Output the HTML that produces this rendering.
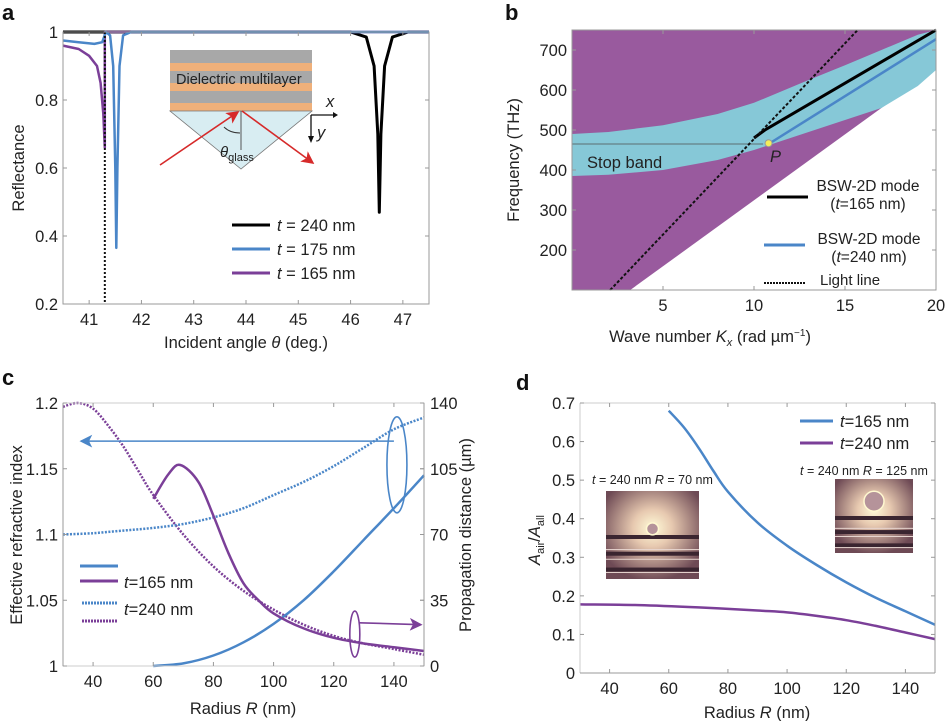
<!DOCTYPE html>
<html><head><meta charset="utf-8">
<style>
body{margin:0;background:#fff;}
svg{display:block;font-family:"Liberation Sans",sans-serif;}
.tk{font-size:16.5px;fill:#222;}
.lab{font-size:16.5px;fill:#222;}
.pl{font-size:22px;font-weight:bold;fill:#111;}
</style></head>
<body>
<svg id="fig" width="946" height="721" viewBox="0 0 946 721">
<defs>
<marker id="arB" markerWidth="8" markerHeight="8" refX="7" refY="4" orient="auto"><path d="M0,0 L8,4 L0,8 L2,4 z" fill="#4a86c8"/></marker>
<marker id="arP" markerWidth="8" markerHeight="8" refX="7" refY="4" orient="auto"><path d="M0,0 L8,4 L0,8 L2,4 z" fill="#7b3f98"/></marker>
<marker id="arR" markerWidth="8" markerHeight="8" refX="7" refY="4" orient="auto"><path d="M0,0 L8,4 L0,8 L2,4 z" fill="#d62a2a"/></marker>
<radialGradient id="fld1" cx="0.5" cy="0.42" r="0.6"><stop offset="0" stop-color="#fffbd8"/><stop offset="0.35" stop-color="#e7c9b0"/><stop offset="1" stop-color="#6e4a55"/></radialGradient>
</defs>
<g id="pa"></g>
<g id="pb"></g>
<g id="pc"></g>
<g id="pd"></g>
</svg>
<script>
// ---------- data ----------
// panel a
const aX240=[40.5,41.3,46.0,46.3,46.45,46.52,46.55,46.58,46.65,46.8,47.1,47.5];
const aY240=[1,1,1,0.985,0.9,0.7,0.47,0.7,0.9,0.985,1,1];
const aX175=[40.5,40.8,41.1,41.25,41.32,41.4,41.46,41.5,41.52,41.54,41.58,41.65,41.8,47.5];
const aY175=[0.975,0.97,0.965,0.97,1,0.99,0.9,0.6,0.365,0.6,0.9,0.99,1,1];
const aX165=[40.5,40.8,41.0,41.15,41.22,41.27,41.3,41.3,47.5];
const aY165=[0.96,0.95,0.93,0.9,0.85,0.76,0.66,1,1];
const aXticks=[41,42,43,44,45,46,47];
const aYticks=[0.2,0.4,0.6,0.8,1];
const aYtickLabels=["0.2","0.4","0.6","0.8","1"];
// panel b
const bBandK=[0,2,5,8,10,13,15,17,19,20];
const bBandUp=[490,495,512,540,568,625,662,700,738,760];
const bBandLo=[385,388,400,425,450,495,525,555,610,650];
const bCladK=[3.2,20];
const bCladF=[100,654];
const bLightK=[2.1,15.7];
const bLightF=[100,750];
const bBlackK=[10.0,10.6,20];
const bBlackF=[480,500,750];
const bBlueK=[10.8,20];
const bBlueF=[465,727];
const bStopF=465;
const bP=[10.8,467];
const bXticks=[5,10,15,20];
const bYticks=[200,300,400,500,600,700];
// panel c
const cR=[60,70,80,90,100,110,120,130,140,150];
const cN165=[1.0,1.002,1.008,1.018,1.032,1.05,1.072,1.096,1.12,1.145];
const cR240=[30,40,50,60,70,80,90,100,110,120,130,140,150];
const cN240=[1.1,1.101,1.103,1.105,1.108,1.113,1.12,1.13,1.14,1.152,1.166,1.18,1.189];
const cRL165=[60,65,69,75,80,85,90,95,100,110,120,130,140,150];
const cL165=[89,102,107,98,80,60,44,35,28,20,15,12,10,8];
const cRL240=[30,35,40,45,50,55,60,70,80,90,100,110,120,130,140,150];
const cL240=[138,140,137,128,117,104,91,70,53,40,30,22,16,12,9,6];
const cXticks=[40,60,80,100,120,140];
const cYticks=[1,1.05,1.1,1.15,1.2];
const cYtickLabels=["1","1.05","1.1","1.15","1.2"];
const cY2ticks=[0,35,70,105,140];
// panel d
const dR165=[60,65,70,75,80,90,100,110,120,130,140,150];
const dA165=[0.68,0.638,0.585,0.525,0.47,0.39,0.33,0.28,0.235,0.195,0.16,0.125];
const dR240=[30,50,70,90,100,110,120,130,140,150];
const dA240=[0.178,0.176,0.17,0.162,0.157,0.148,0.137,0.122,0.105,0.088];
const dXticks=[40,60,80,100,120,140];
const dYticks=[0,0.1,0.2,0.3,0.4,0.5,0.6,0.7];
const dYtickLabels=["0","0.1","0.2","0.3","0.4","0.5","0.6","0.7"];

const NS="http://www.w3.org/2000/svg";
function mk(parent,tag,attrs,text){const e=document.createElementNS(NS,tag);for(const k in attrs)e.setAttribute(k,attrs[k]);if(text!==undefined)e.textContent=text;parent.appendChild(e);return e;}
function lin(d0,d1,p0,p1){return v=>p0+(v-d0)/(d1-d0)*(p1-p0);}
function pathOf(xs,ys,sx,sy){return xs.map((x,i)=>(i?'L':'M')+sx(x).toFixed(1)+','+sy(ys[i]).toFixed(1)).join(' ');}
function smooth(xs,ys,sx,sy){const p=xs.map((x,i)=>[sx(x),sy(ys[i])]);let d='M'+p[0][0]+','+p[0][1];for(let i=0;i<p.length-1;i++){const p0=p[i-1]||p[i],p1=p[i],p2=p[i+1],p3=p[i+2]||p2;const c1=[p1[0]+(p2[0]-p0[0])/6,p1[1]+(p2[1]-p0[1])/6],c2=[p2[0]-(p3[0]-p1[0])/6,p2[1]-(p3[1]-p1[1])/6];d+=` C${c1[0].toFixed(1)},${c1[1].toFixed(1)} ${c2[0].toFixed(1)},${c2[1].toFixed(1)} ${p2[0].toFixed(1)},${p2[1].toFixed(1)}`;}return d;}
function box(g,x0,y0,x1,y1,name){const r=mk(g,'rect',{x:x0,y:y0,width:x1-x0,height:y1-y0,fill:'none',stroke:'#999','stroke-width':1});}
function xt(g,ticks,sx,y0,y1,labels){ticks.forEach((t,i)=>{mk(g,'line',{x1:sx(t),x2:sx(t),y1:y1,y2:y1-4,stroke:'#999'});mk(g,'line',{x1:sx(t),x2:sx(t),y1:y0,y2:y0+4,stroke:'#999'});const e=mk(g,'text',{x:sx(t),y:y1+21,'text-anchor':'middle',class:'tk'},labels?labels[i]:String(t));});}
function yt(g,ticks,sy,x0,x1,labels,right){ticks.forEach((t,i)=>{mk(g,'line',{x1:x0,x2:x0+4,y1:sy(t),y2:sy(t),stroke:'#999'});if(!right)mk(g,'line',{x1:x1,x2:x1-4,y1:sy(t),y2:sy(t),stroke:'#999'});const e=mk(g,'text',{x:right?x1+6:x0-5,y:sy(t)+6,'text-anchor':right?'start':'end',class:'tk'},labels?labels[i]:String(t));});}
function ln(g,d,stroke,w,name,dash){const e=mk(g,'path',{d:d,fill:'none',stroke:stroke,'stroke-width':w,'stroke-linejoin':'round'});if(dash)e.setAttribute('stroke-dasharray',dash);return e;}
function txt(g,x,y,s,cls,name,extra){extra=Object.assign({},extra||{});let st='';if(extra['font-size']){st='font-size:'+extra['font-size'];delete extra['font-size'];}const e=mk(g,'text',Object.assign({x:x,y:y,class:cls},extra));if(st)e.setAttribute('style',st);e.innerHTML=s;return e;}
const BLUE='#4a86c8',PURP='#7b3f98';

// ---------- panel a ----------
(function(){const g=document.getElementById('pa');
const sx=lin(40.5,47.5,63,429),sy=lin(0.2,1,304,32);
txt(g,2,20,'a','pl','panel-label-a');
const ins=mk(g,'g',{});
const cols=['#a8a8a8','#efb07a','#a8a8a8','#efb07a','#a8a8a8','#efb07a'];const hs=[13,8,12,8,12,8];let yy=50;
cols.forEach((c,i)=>{mk(ins,'rect',{x:170,y:yy,width:142,height:hs[i],fill:c});yy+=hs[i];});
mk(ins,'rect',{x:170,y:yy,width:142,height:111-yy,fill:'#efb07a'});
mk(ins,'path',{d:'M170,111 L312,111 L241,169 Z',fill:'#d8edf2',stroke:'#777','stroke-width':0.8});
txt(ins,176,84,'Dielectric multilayer','lab','inset-title',{'font-size':'14.5px'});
mk(ins,'line',{x1:241,y1:111,x2:241,y2:150,stroke:'#555'});
mk(ins,'path',{d:'M224,127 Q230,133 240,133',fill:'none',stroke:'#333'});
txt(ins,220,157,'<tspan font-style="italic">θ</tspan><tspan style="font-size:11px" dy="4">glass</tspan>','lab','theta-glass-label',{'font-size':'15px'});
mk(ins,'line',{x1:160,y1:165,x2:238,y2:112,stroke:'#d62a2a','stroke-width':1.6,'marker-end':'url(#arR)'});
mk(ins,'line',{x1:242,y1:111,x2:313,y2:163,stroke:'#d62a2a','stroke-width':1.6,'marker-end':'url(#arR)'});
mk(ins,'line',{x1:311,y1:115,x2:336,y2:115,stroke:'#111','stroke-width':1.3});
mk(ins,'line',{x1:311,y1:115,x2:311,y2:140,stroke:'#111','stroke-width':1.3});
mk(ins,'path',{d:'M308,136 L311,143 L314,136 Z',fill:'#111'});
mk(ins,'path',{d:'M333,112 L338,115 L333,118 Z',fill:'#111'});
txt(ins,326,107,'x','lab','x-axis-glyph',{'font-style':'italic'});
txt(ins,317,138,'y','lab','y-axis-glyph',{'font-style':'italic'});
ln(g,pathOf(aX240,aY240,sx,sy),'#000',3,'line-t240');
ln(g,pathOf(aX165,aY165,sx,sy),PURP,2.5,'line-t165');
ln(g,pathOf(aX175,aY175,sx,sy),BLUE,2.5,'line-t175');
ln(g,`M${sx(41.3)},${sy(1)} L${sx(41.3)},${sy(0.2)}`,'#111',2,'critical-angle-line','2,2');
box(g,63,32,429,304,'plot-area-a');
xt(g,aXticks,sx,32,304);yt(g,aYticks,sy,63,429,aYtickLabels);
txt(g,246,348,'Incident angle <tspan font-style="italic">θ</tspan> (deg.)','lab','x-axis-title-a',{'text-anchor':'middle'});
txt(g,24,168,'Reflectance','lab','y-axis-title-a',{'text-anchor':'middle',transform:'rotate(-90 24 168)'});
[['#000','240'],[BLUE,'175'],[PURP,'165']].forEach((l,i)=>{const y=225+i*24;const e=mk(g,'line',{x1:232,x2:270,y1:y,y2:y,stroke:l[0],'stroke-width':3});txt(g,277,y+6,'<tspan font-style="italic">t</tspan> = '+l[1]+' nm','lab','legend-entry-t'+l[1]);});
})();

// ---------- panel b ----------
(function(){const g=document.getElementById('pb');
const sx=lin(0,20,572,936),sy=lin(100,750,290,30);
txt(g,505,20,'b','pl','panel-label-b');
const bg=mk(g,'rect',{x:572,y:30,width:364,height:260,fill:'#995a9e'});
const cl=mk(g,'path',{d:`M${sx(bCladK[0])},${sy(bCladF[0])} L${sx(bCladK[1])},${sy(bCladF[1])} L${sx(20)},${sy(100)} Z`,fill:'#fff'});
const up=bBandK.map((k,i)=>[sx(k),sy(Math.min(bBandUp[i],750))]);const lo=bBandK.map((k,i)=>[sx(k),sy(bBandLo[i])]).reverse();
const band=mk(g,'path',{d:'M'+up.concat(lo).map(p=>p.join(',')).join(' L')+' Z',fill:'#86c8d7'});
ln(g,`M${sx(0)},${sy(bStopF)} L${sx(10.5)},${sy(bStopF)}`,'#6a8c94',1.5,'stop-band-center');
ln(g,pathOf(bBlueK,bBlueF,sx,sy),BLUE,2.5,'bsw-mode-t240');
ln(g,pathOf(bBlackK,bBlackF,sx,sy),'#000',3,'bsw-mode-t165');
ln(g,pathOf(bLightK,bLightF,sx,sy),'#111',2,'light-line','3,2');
const c=mk(g,'circle',{cx:sx(bP[0]),cy:sy(bP[1]),r:3.5,fill:'#f4ee5a',stroke:'#999'});
txt(g,770,162,'P','lab','point-p-label',{'font-style':'italic'});
txt(g,587,168,'Stop band','lab','stop-band-label');
box(g,572,30,936,290,'plot-area-b');
xt(g,bXticks,sx,30,290);yt(g,bYticks,sy,572,936);
txt(g,710,342,'Wave number <tspan font-style="italic">K</tspan><tspan style="font-size:11px" dy="4" font-style="italic">x</tspan><tspan dy="-4"> (rad µm</tspan><tspan style="font-size:10px" dy="-6">−1</tspan><tspan dy="6">)</tspan>','lab','x-axis-title-b',{'text-anchor':'middle'});
txt(g,519,160,'Frequency (THz)','lab','y-axis-title-b',{'text-anchor':'middle',transform:'rotate(-90 519 160)'});
const lg=mk(g,'g',{});
mk(lg,'line',{x1:767,x2:808,y1:197,y2:197,stroke:'#000','stroke-width':3});
txt(lg,868,191,'BSW-2D mode','lab','legend-entry-bsw-t165',{'text-anchor':'middle','font-size':'15.5px'});
txt(lg,868,209,'(<tspan font-style="italic">t</tspan>=165 nm)','lab','legend-entry-bsw-t165-sub',{'text-anchor':'middle','font-size':'15.5px'});
mk(lg,'line',{x1:764,x2:805,y1:245,y2:245,stroke:BLUE,'stroke-width':3});
txt(lg,869,244,'BSW-2D mode','lab','legend-entry-bsw-t240',{'text-anchor':'middle','font-size':'15.5px'});
txt(lg,869,262,'(<tspan font-style="italic">t</tspan>=240 nm)','lab','legend-entry-bsw-t240-sub',{'text-anchor':'middle','font-size':'15.5px'});
mk(lg,'line',{x1:764,x2:805,y1:283,y2:283,stroke:'#111','stroke-width':2,'stroke-dasharray':'2,1'});
txt(lg,820,285,'Light line','lab','legend-entry-light-line',{'font-size':'15px'});
})();

// ---------- panel c ----------
(function(){const g=document.getElementById('pc');
const sx=lin(30,150,63,424),sy=lin(1,1.2,666,403),sy2=lin(0,140,666,403);
txt(g,2,385,'c','pl','panel-label-c');
ln(g,smooth(cRL240,cL240,sx,sy2),PURP,2.5,'prop-dist-t240','2,1.5');
ln(g,smooth(cR240,cN240,sx,sy),BLUE,2.5,'neff-t240','2,1.5');
ln(g,smooth(cR,cN165,sx,sy),BLUE,2.5,'neff-t165');
ln(g,smooth(cRL165,cL165,sx,sy2),PURP,2.5,'prop-dist-t165');
ln(g,`M${sx(140)},${sy(1.171)} L${sx(36)},${sy(1.171)}`,BLUE,1.6,'arrow-left-axis').setAttribute('marker-end','url(#arB)');
const e1=mk(g,'ellipse',{cx:sx(141),cy:sy(1.153),rx:10,ry:48,fill:'none',stroke:BLUE,'stroke-width':1.6});
const e2=mk(g,'ellipse',{cx:sx(127),cy:sy2(17),rx:5,ry:23,fill:'none',stroke:PURP,'stroke-width':1.6});
ln(g,`M${sx(128.5)},${sy2(23)} L${sx(149)},${sy2(22)}`,PURP,1.6,'arrow-right-axis').setAttribute('marker-end','url(#arP)');
mk(g,'rect',{x:63,y:403,width:361,height:263,fill:'none',stroke:'#ccc'});
mk(g,'line',{x1:63,x2:63,y1:403,y2:666,stroke:'#999'});mk(g,'line',{x1:424,x2:424,y1:403,y2:666,stroke:'#999'});
xt(g,cXticks,sx,403,666);yt(g,cYticks,sy,63,424,cYtickLabels);
cY2ticks.forEach(t=>{mk(g,'line',{x1:424,x2:420,y1:sy2(t),y2:sy2(t),stroke:'#999'});txt(g,430,sy2(t)+6,String(t),'tk','y2-tick-label');});
txt(g,243,714,'Radius <tspan font-style="italic">R</tspan> (nm)','lab','x-axis-title-c',{'text-anchor':'middle'});
txt(g,22,535,'Effective refractive index','lab','y-axis-title-c',{'text-anchor':'middle',transform:'rotate(-90 22 535)'});
txt(g,471,535,'Propagation distance (µm)','lab','y2-axis-title-c',{'text-anchor':'middle',transform:'rotate(-90 471 535)'});
mk(g,'line',{x1:80,x2:118,y1:566,y2:566,stroke:BLUE,'stroke-width':3});
mk(g,'line',{x1:80,x2:118,y1:581,y2:581,stroke:PURP,'stroke-width':3});
txt(g,124,588,'<tspan font-style="italic">t</tspan>=165 nm','lab','legend-entry-c-t165');
mk(g,'line',{x1:82,x2:118,y1:603,y2:603,stroke:BLUE,'stroke-width':3,'stroke-dasharray':'2,1'});
mk(g,'line',{x1:82,x2:118,y1:621,y2:621,stroke:PURP,'stroke-width':3,'stroke-dasharray':'2,1'});
txt(g,124,615,'<tspan font-style="italic">t</tspan>=240 nm','lab','legend-entry-c-t240');
})();

// ---------- panel d ----------
(function(){const g=document.getElementById('pd');
const sx=lin(30,150,580,935),sy=lin(0,0.7,673,403);
txt(g,516,390,'d','pl','panel-label-d');
function field(x,y,w,h,cy,r,name){const f=mk(g,'g',{});
mk(f,'rect',{x:x,y:y,width:w,height:h,fill:'url(#fld1)'});
const lines=[0.5,0.66,0.69,0.77,0.87,0.92];lines.forEach((p,i)=>mk(f,'rect',{x:x,y:y+h*p,width:w,height:i%2?1:4,fill:i%2?'#e8d6d0':'#3a2530'}));
mk(f,'circle',{cx:x+w/2,cy:y+h*cy,r:r,fill:'#b5939a',stroke:'#fff8d0','stroke-width':1.5});}
field(606,491,93,88,0.43,6,'field-inset-r70');
field(835,479,78,74,0.3,10,'field-inset-r125');
txt(g,592,484,'<tspan font-style="italic">t</tspan> = 240 nm <tspan font-style="italic">R</tspan> = 70 nm','lab','inset-label-r70',{'font-size':'12.5px'});
txt(g,800,475,'<tspan font-style="italic">t</tspan> = 240 nm <tspan font-style="italic">R</tspan> = 125 nm','lab','inset-label-r125',{'font-size':'12.5px'});
ln(g,smooth(dR165,dA165,sx,sy),BLUE,2.5,'line-d-t165');
ln(g,smooth(dR240,dA240,sx,sy),PURP,2.5,'line-d-t240');
mk(g,'line',{x1:580,x2:580,y1:403,y2:673,stroke:'#ccc'});mk(g,'line',{x1:580,x2:935,y1:673,y2:673,stroke:'#999'});
mk(g,'line',{x1:935,x2:935,y1:403,y2:673,stroke:'#999'});mk(g,'line',{x1:580,x2:935,y1:403,y2:403,stroke:'#ccc'});
xt(g,dXticks,sx,403,673);yt(g,dYticks,sy,580,935,dYtickLabels);
txt(g,757,718,'Radius <tspan font-style="italic">R</tspan> (nm)','lab','x-axis-title-d',{'text-anchor':'middle'});
txt(g,540,540,'<tspan font-style="italic">A</tspan><tspan style="font-size:11px" dy="4">air</tspan><tspan dy="-4">/</tspan><tspan font-style="italic">A</tspan><tspan style="font-size:11px" dy="4">all</tspan>','lab','y-axis-title-d',{'text-anchor':'middle',transform:'rotate(-90 540 540)'});
mk(g,'line',{x1:800,x2:833,y1:421,y2:421,stroke:BLUE,'stroke-width':3});
txt(g,840,427,'<tspan font-style="italic">t</tspan>=165 nm','lab','legend-entry-d-t165');
mk(g,'line',{x1:800,x2:833,y1:443,y2:443,stroke:PURP,'stroke-width':3});
txt(g,840,449,'<tspan font-style="italic">t</tspan>=240 nm','lab','legend-entry-d-t240');
})();
</script>
</body></html>
